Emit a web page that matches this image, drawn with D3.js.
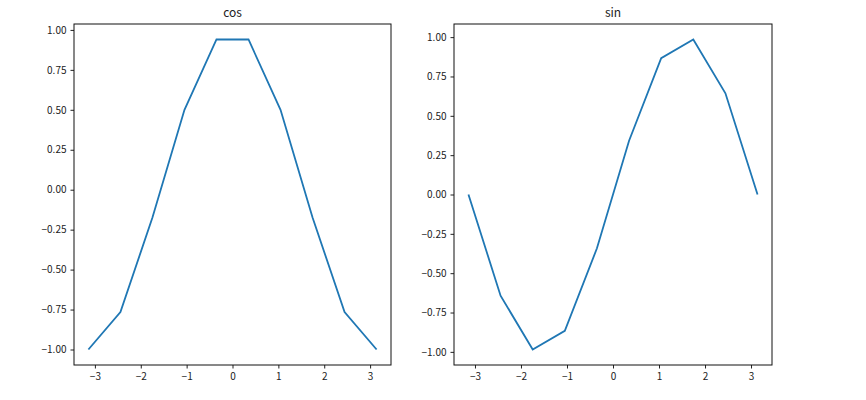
<!DOCTYPE html>
<html><head><meta charset="utf-8">
<script src="https://cdn.jsdelivr.net/npm/d3@7"></script>
<style>body{margin:0;background:#fff;} text{font-family:"Noto Sans CJK SC","DejaVu Sans",sans-serif;}</style>
</head><body>
<script>
var xs = [-3.1416, -2.4435, -1.7453, -1.0472, -0.3491, 0.3491, 1.0472, 1.7453, 2.4435, 3.1416];
var cosVals = [-1.0, -0.766, -0.174, 0.5, 0.940, 0.940, 0.5, -0.174, -0.766, -1.0];
var sinVals = [0.0, -0.643, -0.985, -0.866, -0.342, 0.342, 0.866, 0.985, 0.643, 0.0];
var xTicks = [-3, -2, -1, 0, 1, 2, 3];
var yTicks = [-1, -0.75, -0.5, -0.25, 0, 0.25, 0.5, 0.75, 1];
var titles = ["cos", "sin"];

var svg = d3.select("body").append("svg").attr("width", 866).attr("height", 400);
var fmt = function(d){ return d3.format(".2f")(d).replace("-", "\u2212"); };
var fmtX = function(d){ return String(d).replace("-", "\u2212"); };

function panel(left, right, top, bottom, vals, title)
{
	var g = svg.append("g");
	var lo = d3.min(vals), hi = d3.max(vals), pad = (hi - lo) * 0.05;
	var xpad = (xs[9] - xs[0]) * 0.05;
	var x = d3.scaleLinear().domain([xs[0] - xpad, xs[9] + xpad]).range([left, right]);
	var y = d3.scaleLinear().domain([lo - pad, hi + pad]).range([bottom, top]);
	var xa = g.append("g").attr("transform", "translate(0," + bottom + ")")
		.call(d3.axisBottom(x).tickValues(xTicks).tickFormat(fmtX).tickSizeOuter(0).tickSize(3.5).tickPadding(4));
	var ya = g.append("g").attr("transform", "translate(" + left + ",0)")
		.call(d3.axisLeft(y).tickValues(yTicks).tickFormat(fmt).tickSizeOuter(0).tickSize(3.5).tickPadding(4));
	[xa, ya].forEach(function(a){
		a.select(".domain").remove();
		a.selectAll("text").attr("font-size", 10).attr("fill", "#222");
		a.selectAll("line").attr("stroke", "#222");
	});
	g.append("rect").attr("x", left).attr("y", top).attr("width", right - left).attr("height", bottom - top)
		.attr("fill", "none").attr("stroke", "#111").attr("stroke-width", 1);
	g.append("path").datum(vals)
		.attr("d", d3.line().x(function(d, i){ return x(xs[i]); }).y(function(d){ return y(d); }))
		.attr("fill", "none").attr("stroke", "#1f77b4").attr("stroke-width", 1.8);
	g.append("text").attr("x", (left + right) / 2).attr("y", top - 7).attr("text-anchor", "middle")
		.attr("font-size", 12).attr("fill", "#222").text(title);
}
panel(74, 391, 24, 365, cosVals, titles[0]);
panel(454, 772, 24, 365, sinVals, titles[1]);
</script>
</body></html>
